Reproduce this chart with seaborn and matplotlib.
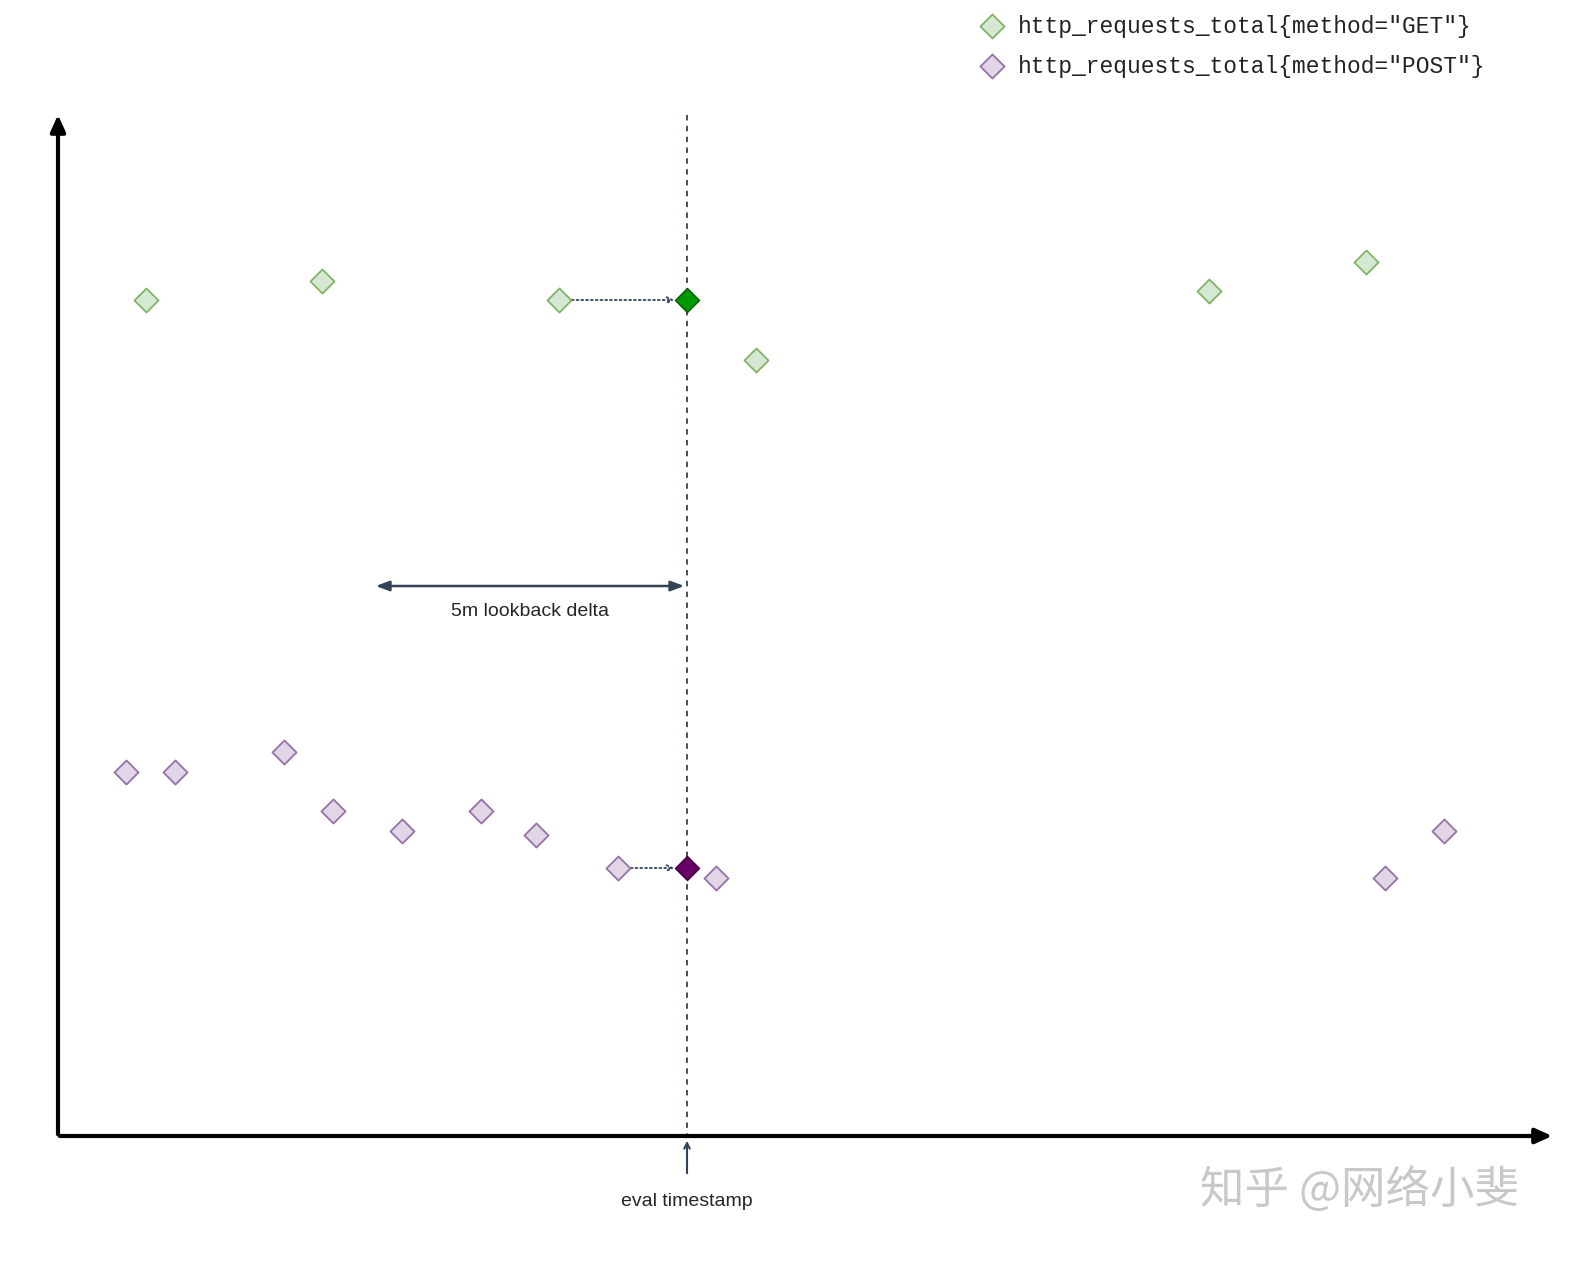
import numpy as np
import pandas as pd
import matplotlib.pyplot as plt
import seaborn as sns

# sample times / values (in chart units)
get_t = [146, 322, 559, 756, 1209, 1366]
get_v = [300, 281, 300, 360, 291, 262]
post_t = [126, 175, 284, 333, 402, 481, 536, 618, 716, 1385, 1444]
post_v = [772, 772, 752, 811, 831, 811, 835, 868, 878, 878, 831]
eval_t = 687
get_eval = 300
post_eval = 868
lookback_start = 373
series = ['http_requests_total{method="GET"}', 'http_requests_total{method="POST"}']

df = pd.DataFrame({
    "t": get_t + post_t,
    "v": get_v + post_v,
    "series": [series[0]] * len(get_t) + [series[1]] * len(post_t),
})

sns.set_style("white")
plt.rcParams['font.family'] = ['Liberation Sans', 'Noto Sans CJK SC', 'DejaVu Sans']

fig = plt.figure(figsize=(15.8, 12.64), dpi=100)
ax = fig.add_axes([0, 0, 1, 1])
ax.set_xlim(0, 1580)
ax.set_ylim(1264, 0)
ax.axis("off")

fills = {series[0]: "#d5e8d4", series[1]: "#e1d5e7"}
edges = {series[0]: "#82b366", series[1]: "#9673a6"}
for name, grp in df.groupby("series"):
    sns.scatterplot(data=grp, x="t", y="v", marker="D", s=150, color=fills[name],
                    edgecolor=edges[name], linewidth=1.3, ax=ax, legend=False, zorder=3)

# evaluated points
ax.scatter([eval_t], [get_eval], marker="D", s=150, color="#009900", edgecolor="#005700", zorder=4)
ax.scatter([eval_t], [post_eval], marker="D", s=150, color="#660066", edgecolor="#3d003d", zorder=4)

# lookup arrows to eval timestamp
for x0, y0 in [(get_t[2], get_eval), (post_t[7], post_eval)]:
    ax.annotate("", xy=(eval_t - 10, y0), xytext=(x0 + 10, y0),
                arrowprops=dict(arrowstyle="->", color="#314354", linestyle=":", lw=1.3), zorder=2)

# axes arrows
ax.annotate("", xy=(58, 112), xytext=(58, 1137),
            arrowprops=dict(arrowstyle="-|>,head_width=0.45,head_length=1.0", color="black", lw=3))
ax.annotate("", xy=(1555, 1136), xytext=(57, 1136),
            arrowprops=dict(arrowstyle="-|>,head_width=0.45,head_length=1.0", color="black", lw=3))

# eval timestamp line
ax.plot([eval_t, eval_t], [115, 1136], color="#314354", linestyle=(0, (3, 3)), lw=1.3, zorder=1)
ax.annotate("", xy=(eval_t, 1138), xytext=(eval_t, 1176),
            arrowprops=dict(arrowstyle="->", color="#314354", lw=1.5))
ax.text(eval_t, 1201, "eval timestamp", ha="center", va="center", fontsize=14)

# lookback delta
ax.annotate("", xy=(lookback_start, 586), xytext=(eval_t, 586),
            arrowprops=dict(arrowstyle="<|-|>,head_width=0.3,head_length=0.8", color="#314354", lw=1.8))
ax.text((lookback_start + eval_t) / 2, 611, "5m lookback delta", ha="center", va="center", fontsize=14)

# legend
for i, name in enumerate(series):
    ly = 26 + 40 * i
    ax.scatter([992], [ly], marker="D", s=150, color=fills[name], edgecolor=edges[name], linewidth=1.3)
    ax.text(1018, ly, name, ha="left", va="center", fontsize=16.5, family="Liberation Mono",
            color="#222222")

# watermark
ax.text(1360, 1190, "知乎 @网络小斐", ha="center", va="center", fontsize=32,
        color="#c8c8c8", family=["Noto Sans CJK SC", "DejaVu Sans"])

fig.savefig("out.png", dpi=100, facecolor="white")
